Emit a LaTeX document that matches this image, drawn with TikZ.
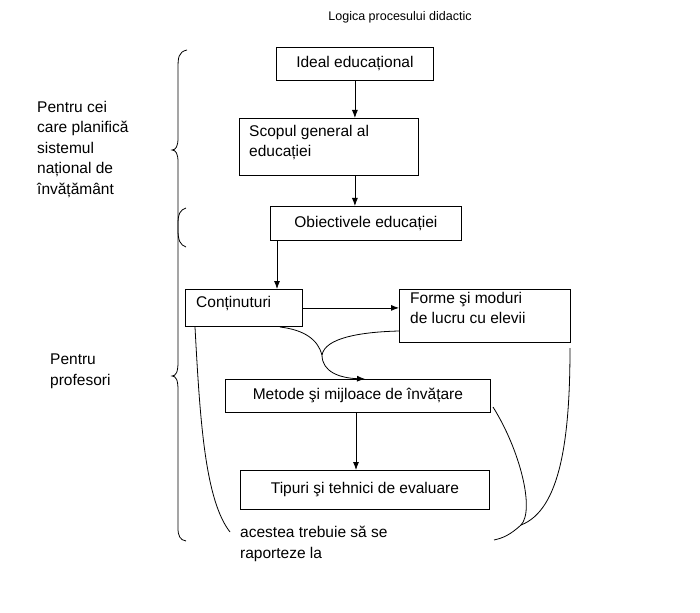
\documentclass[tikz,border=0pt]{standalone}
\usepackage{fontspec}
\setmainfont{Liberation Sans}
\usetikzlibrary{arrows.meta}
\begin{document}
\begin{tikzpicture}[x=1pt,y=-1pt,
 box/.style={draw,line width=0.8pt,align=left,inner sep=0pt,anchor=north west},
 arr/.style={-{Latex[length=8pt,width=6pt]},line width=0.8pt},
 ln/.style={line width=0.8pt},
 txt/.style={align=left,anchor=north west,inner sep=0pt,font=\fontsize{15.5}{20.5}\selectfont}]
\useasboundingbox (0,0) rectangle (700,612);
\fill[white] (0,0) rectangle (700,612);
\node[txt,anchor=center,font=\fontsize{12.5}{15}\selectfont] (title) at (400,17) {Logica procesului didactic};
\node[box,minimum width=157,minimum height=33] (ideal) at (276,47) {};
\node[txt,anchor=center] at (ideal.center) {Ideal educațional};
\node[box,minimum width=179,minimum height=57] (scop) at (239,118) {};
\node[txt] at (249,125) {Scopul general al\\educației};
\node[box,minimum width=191,minimum height=34] (obi) at (270,206) {};
\node[txt,anchor=center] at (obi.center) {Obiectivele educației};
\node[box,minimum width=117,minimum height=37] (con) at (185,289) {};
\node[txt] at (196,296) {Conținuturi};
\node[box,minimum width=171,minimum height=53] (for) at (399,289) {};
\node[txt] at (410,292) {Forme şi moduri\\de lucru cu elevii};
\node[box,minimum width=265,minimum height=33] (met) at (225,379) {};
\node[txt,anchor=center] at (met.center) {Metode şi mijloace de învățare};
\node[box,minimum width=249,minimum height=39] (tip) at (240,470) {};
\node[txt,anchor=center] at (tip.center) {Tipuri şi tehnici de evaluare};
\node[txt] (pl) at (37,101) {Pentru cei\\care planifică\\sistemul\\național de\\învățământ};
\node[txt] (pr) at (50,354) {Pentru\\profesori};
\node[txt] (ac) at (240,526) {acestea trebuie să se\\raporteze la};
\coordinate (m) at (322,355);
\draw[arr] (ideal.south) -- (scop.north -| ideal.south);
\draw[arr] (scop.south -| ideal.south) -- (obi.north -| ideal.south);
\draw[arr] (277,240) -- (277,289);
\draw[arr] (con.east) -- (for.west |- con.east);
\draw[ln] (280,327) .. controls (305,330) and (318,340) .. (m);
\draw[ln] (399,331) .. controls (360,332) and (325,338) .. (m);
\draw[arr] (m) .. controls (322,372) and (340,378) .. (365,379);
\draw[arr] (356,412) -- (356,470);
\draw[ln] (195,327) .. controls (200,420) and (205,500) .. (230,532);
\draw[ln] (493,407) .. controls (520,450) and (535,510) .. (521,525);
\draw[ln] (570,348) .. controls (570,440) and (560,510) .. (521,525) .. controls (510,535) and (503,538) .. (494,540);
\draw[ln] (187,50) .. controls (178,52) and (178,58) .. (178,70) -- (178,138) .. controls (178,146) and (176,150) .. (172,150)
 .. controls (176,150) and (178,154) .. (178,162) -- (178,230) .. controls (178,240) and (180,245) .. (186,247);
\draw[ln] (186,208) .. controls (180,210) and (178,214) .. (178,224) -- (178,362) .. controls (178,372) and (176,376) .. (172,376)
 .. controls (176,376) and (178,380) .. (178,390) -- (178,528) .. controls (178,536) and (180,540) .. (186,541);
\end{tikzpicture}
\end{document}
